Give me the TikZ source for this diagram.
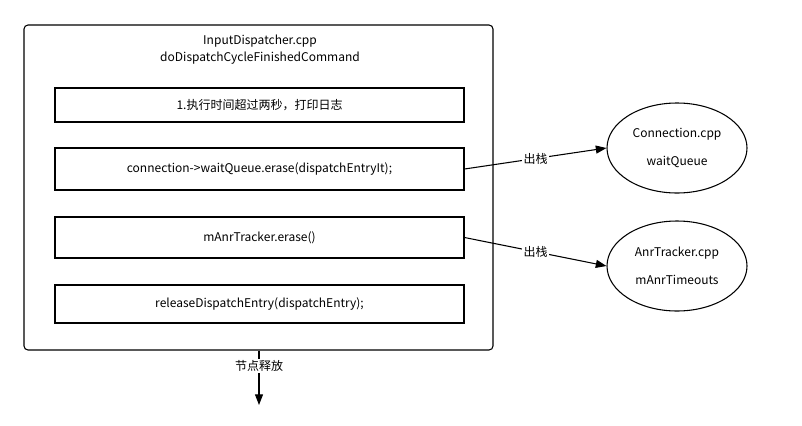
\documentclass[tikz,border=0pt]{standalone}
\usepackage{fontspec}
\setmainfont{Noto Sans CJK SC}
\usetikzlibrary{arrows.meta,shapes.geometric}
\begin{document}
\begin{tikzpicture}[x=0.75pt,y=-0.75pt,font=\fontsize{9}{11}\selectfont,
  stepbox/.style={draw,line width=0.8pt,minimum width=409*0.75pt,inner sep=0pt},
  ell/.style={draw,line width=0.8pt,ellipse,minimum width=140*0.75pt,minimum height=90*0.75pt,align=center},
  arr/.style={-{Triangle[length=8pt,width=6pt]},line width=0.8pt},
  lab/.style={fill=white,inner sep=1pt}]
\useasboundingbox (0,0) rectangle (802,425);
\node[draw,line width=0.8pt,rounded corners=3pt,minimum width=469*0.75pt,minimum height=325*0.75pt] (outer) at (258.5,187.5) {};
\node (t1) at (260,41) {InputDispatcher.cpp};
\node (t2) at (260,58) {doDispatchCycleFinishedCommand};
\node[stepbox,minimum height=34*0.75pt] (b1) at (259.5,105) {1.执行时间超过两秒，打印日志};
\node[stepbox,minimum height=42*0.75pt] (b2) at (259.5,169) {connection->waitQueue.erase(dispatchEntryIt);};
\node[stepbox,minimum height=41*0.75pt] (b3) at (259.5,237.5) {mAnrTracker.erase()};
\node[stepbox,minimum height=38*0.75pt] (b4) at (259.5,304) {releaseDispatchEntry(dispatchEntry);};
\node[ell] (e1) at (677,148) {Connection.cpp\\[10pt]waitQueue};
\node[ell] (e2) at (677,266) {AnrTracker.cpp\\[10pt]mAnrTimeouts};
\coordinate (bot) at (259,405);
\draw[arr] (b2.east) -- node[lab] {出栈} (e1.west);
\draw[arr] (b3.east) -- node[lab] {出栈} (e2.west);
\draw[arr] (outer.south -| bot) -- node[lab,pos=0.28] {节点释放} (bot);
\end{tikzpicture}
\end{document}
